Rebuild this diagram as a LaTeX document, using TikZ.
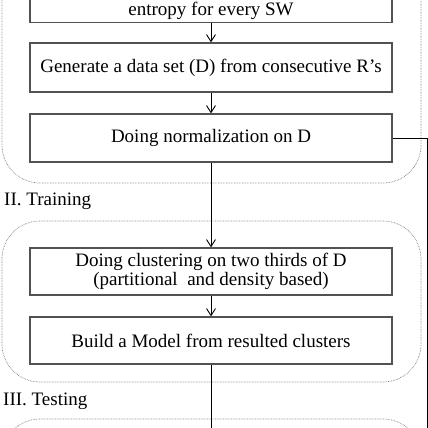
\documentclass[tikz,border=0pt]{standalone}
\usepackage{fontspec}
\setmainfont{Liberation Serif}
\usetikzlibrary{arrows.meta,backgrounds}
\begin{document}
\begin{tikzpicture}[x=1pt,y=-1pt,
  box/.style={draw=black!68, fill=white, line width=1.3pt, minimum width=362pt, inner sep=0pt, align=center, font=\fontsize{19}{18.5}\selectfont},
  txt/.style={inner sep=0pt, font=\fontsize{19}{18.5}\selectfont},
  frame/.style={draw=black!50, line width=0.7pt, dash pattern=on 0.7pt off 0.9pt, rounded corners=38pt},
  conn/.style={draw=black, line width=0.9pt},
  arr/.style={conn, -{Straight Barb[length=7pt,width=9pt,line width=0.9pt]}}
]
\useasboundingbox (0,0) rectangle (428,428);
% boxes
\node[box, minimum height=48pt, anchor=south] (b1) at (211,23) {};
\node[txt] (t1) at (211,11) {entropy for every SW};
\node[box, minimum height=49pt] (b2) at (211,67.5) {Generate a data set (D) from consecutive R's};
\node[box, minimum height=48pt] (b3) at (211,138) {Doing normalization on D};
\node[box, minimum height=47pt] (b4) at (211,271.5) {Doing clustering on two thirds of D\\(partitional\ \ and density based)};
\node[box, minimum height=47pt] (b5) at (211,340.5) {Build a Model from resulted clusters};
% labels
\node[txt, anchor=west] (l2) at (4,201) {II. Training};
\node[txt, anchor=west] (l3) at (3,401) {III. Testing};
% coordinates
\coordinate (r1) at (427,138);
\coordinate (r2) at (427,440);
\coordinate (bot) at (211,440);
\begin{scope}[on background layer]
% frames
\draw[frame] (2,-60) rectangle (421,183);
\draw[frame] (2,221) rectangle (421,382);
\draw[frame] (2,419) rectangle (421,520);
% connectors
\draw[arr] (b1.south) -- (b2.north);
\draw[arr] (b2.south) -- (b3.north);
\draw[arr] (b3.south) -- (b4.north);
\draw[arr] (b4.south) -- (b5.north);
\draw[conn] (b5.south) -- (bot);
\draw[conn] (b3.east) -- (r1) -- (r2);
\end{scope}
\end{tikzpicture}
\end{document}
